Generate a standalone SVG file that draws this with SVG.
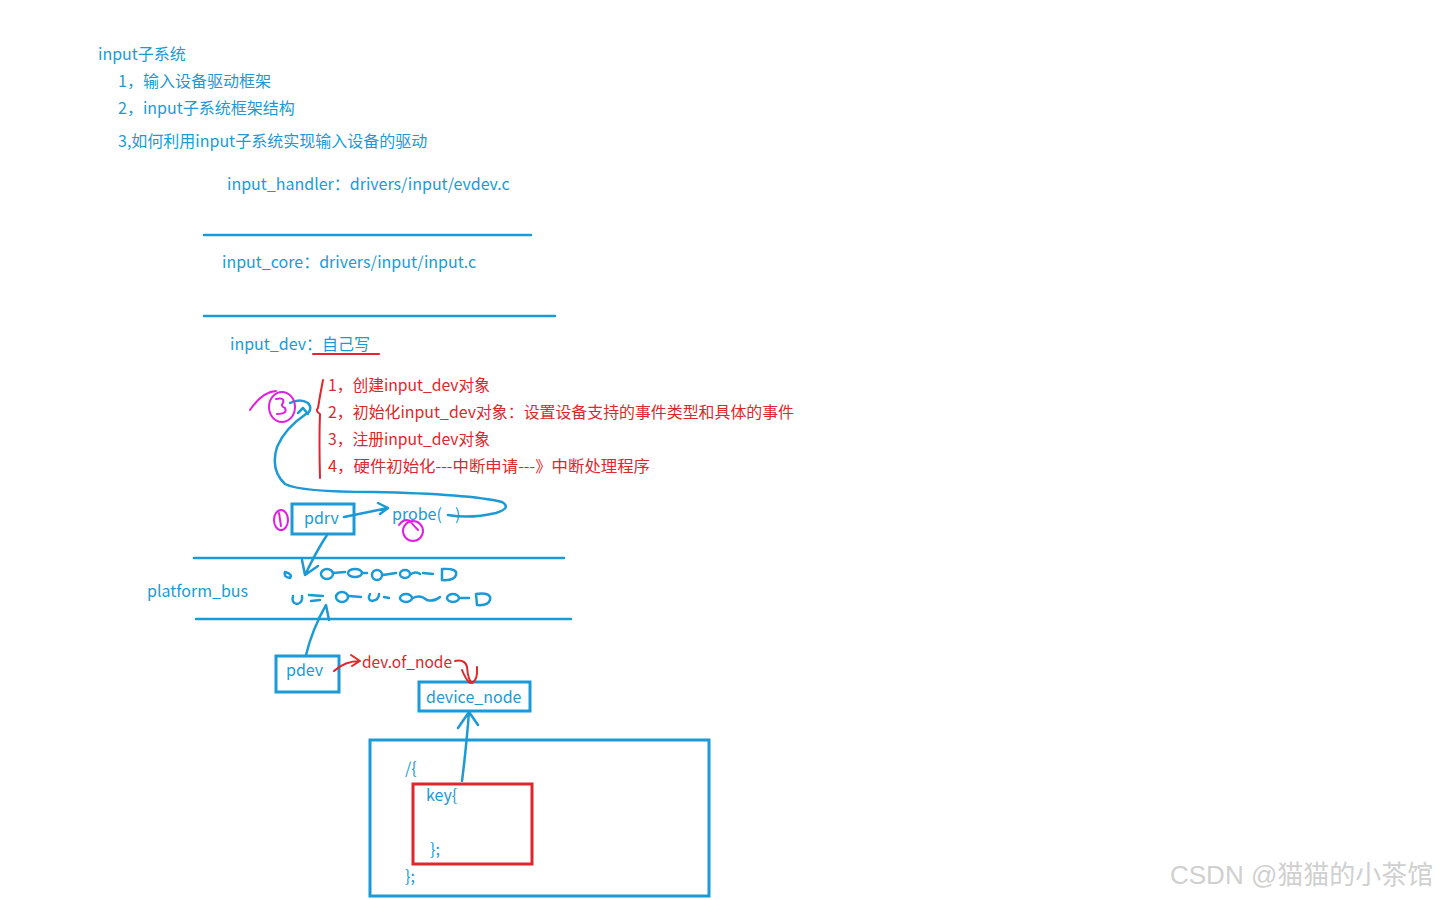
<svg xmlns="http://www.w3.org/2000/svg" width="1440" height="900" viewBox="0 0 1440 900">
<defs>
<style>
text{font-family:"Noto Sans CJK SC","Noto Sans",sans-serif;}
.b{fill:#1b9ad6;font-size:16px;}
.r{fill:#e0262c;font-size:15.5px;}
.bl{stroke:#1b9ad6;fill:none;stroke-width:2.5;stroke-linecap:round;stroke-linejoin:round;}
.box{stroke:#1b9ad6;fill:#fff;stroke-width:3;}
.rl{stroke:#e0262c;fill:none;stroke-width:2;stroke-linecap:round;stroke-linejoin:round;}
.mg{stroke:#e020e0;fill:none;stroke-width:2;stroke-linecap:round;stroke-linejoin:round;}
.wm{fill:#d0d0d0;font-size:26px;font-family:"Liberation Sans","Noto Sans CJK SC",sans-serif;}
</style>
</defs>
<rect width="1440" height="900" fill="#fff"/>

<g id="heading">
<text class="b" x="98" y="60">input子系统</text>
<text class="b" x="118" y="87" font-size="15">1，输入设备驱动框架</text>
<text class="b" x="118" y="114" font-size="15">2，input子系统框架结构</text>
<text class="b" x="118" y="147" font-size="15">3,如何利用input子系统实现输入设备的驱动</text>
</g>

<g id="layers">
<text class="b" x="227" y="190">input_handler：drivers/input/evdev.c</text>
<line class="bl" x1="204" y1="235" x2="531" y2="235" stroke-width="2"/>
<text class="b" x="222" y="268">input_core：drivers/input/input.c</text>
<line class="bl" x1="204" y1="316" x2="555" y2="316" stroke-width="2"/>
<text class="b" x="230" y="350">input_dev：<tspan>自己写</tspan></text>
<line class="rl" x1="313" y1="354" x2="379" y2="354"/>
</g>

<g id="steps">
<path class="rl" d="M323,380 Q320,395 318,408 Q315,411 320,414 Q319,440 320,478" stroke-width="2.5"/>
<text class="r" x="328" y="391" textLength="162" lengthAdjust="spacingAndGlyphs">1，创建input_dev对象</text>
<text class="r" x="328" y="418" textLength="466" lengthAdjust="spacingAndGlyphs">2，初始化input_dev对象：设置设备支持的事件类型和具体的事件</text>
<text class="r" x="328" y="445" textLength="162" lengthAdjust="spacingAndGlyphs">3，注册input_dev对象</text>
<text class="r" x="328" y="472" textLength="322" lengthAdjust="spacingAndGlyphs">4，硬件初始化---中断申请---》中断处理程序</text>
</g>

<g id="pdrv">
<rect class="box" x="292" y="504" width="62" height="30"/>
<text class="b" x="304" y="524">pdrv</text>
</g>

<g id="probe">
<text class="b" x="392" y="520">probe(</text>
<text class="b" x="455" y="520">)</text>
</g>

<g id="platform_bus">
<line class="bl" x1="194" y1="558" x2="564" y2="558" stroke-width="3"/>
<line class="bl" x1="196" y1="619" x2="571" y2="619" stroke-width="3"/>
<text class="b" x="147" y="597">platform_bus</text>
<g class="bl" stroke-width="2">
<path d="M285,572 Q283,577 290,578 Q293,574 285,572 Z"/>
<ellipse cx="327" cy="574" rx="6" ry="5"/>
<path d="M333,573 L345,572"/>
<ellipse cx="355" cy="573" rx="7" ry="4"/>
<path d="M362,573 L367,573"/>
<ellipse cx="377" cy="575" rx="5" ry="5"/>
<path d="M383,575 L396,573"/>
<ellipse cx="405" cy="574" rx="5" ry="4"/>
<path d="M411,574 Q416,571 420,574 M423,573 L433,574"/>
<path d="M442,569 L442,580 M442,569 Q458,568 456,575 Q454,581 442,580"/>
<path d="M293,596 Q291,603 297,604 Q303,603 302,596"/>
<path d="M309,595 L323,596 M311,601 L320,600"/>
<ellipse cx="342" cy="597" rx="6" ry="5"/>
<path d="M349,596 L361,597"/>
<path d="M370,594 Q367,600 372,601 Q379,600 379,594"/>
<path d="M384,597 L389,598"/>
<ellipse cx="406" cy="598" rx="6" ry="4"/>
<path d="M413,598 Q420,594 427,600 Q434,602 440,597"/>
<ellipse cx="453" cy="598" rx="6" ry="4"/>
<path d="M461,598 L469,598"/>
<path d="M476,594 L477,605 M476,594 Q492,592 490,600 Q488,606 477,605"/>
</g>
</g>

<g id="pdev">
<rect class="box" x="276" y="656" width="63" height="36"/>
<text class="b" x="286" y="676">pdev</text>
</g>

<g id="dev_of_node">
<text class="r" x="362" y="668" font-size="16.5">dev.of_node</text>
</g>

<g id="device_node">
<rect class="box" x="419" y="682" width="111" height="29"/>
<text class="b" x="426" y="703">device_node</text>
</g>

<g id="dts">
<rect class="box" x="370" y="740" width="339" height="156" fill="none"/>
<rect x="413" y="784" width="119" height="80" fill="none" stroke="#e0262c" stroke-width="3"/>
<text class="b" x="405" y="774" font-size="15">/{</text>
<text class="b" x="426" y="801" font-size="15">key{</text>
<text class="b" x="430" y="855" font-size="15">};</text>
<text class="b" x="405" y="882" font-size="15">};</text>
</g>

<g id="connectors">
<path class="bl" d="M344,517 L388,508 M378,503 L388,508 L380,514"/>
<path class="bl" d="M290,403 Q300,398 308,403 Q312,407 309,412 M298,413 L303,408 L308,414"/>
<path class="bl" d="M306,414 Q285,428 277,447 Q270,470 285,484 Q300,492 373,492 Q470,494 502,502 Q512,508 496,513 Q470,519 448,515"/>
<path class="bl" d="M327,535 Q317,550 305,575 M302,560 L305,575 L318,566"/>
<path class="bl" d="M306,655 Q312,630 326,605 M319,618 L326,605 L329,620"/>
<path class="rl" d="M334,671 Q345,661 360,661 M351,655 L360,661 L352,666"/>
<path class="rl" d="M455,661 Q465,659 467,667 Q468,680 472,683 Q478,680 477,667 M462,670 Q466,680 470,683"/>
<path class="bl" d="M462,781 Q466,750 469,712 M458,728 L469,712 L478,725"/>
</g>

<g id="marks">
<ellipse class="mg" cx="282" cy="407" rx="13" ry="15"/>
<path class="mg" d="M276,399 Q285,397 283,403 Q280,406 285,408 Q288,414 277,414"/>
<path class="mg" d="M250,410 Q262,392 276,391"/>
<ellipse class="mg" cx="281" cy="520" rx="7" ry="10"/>
<path class="mg" d="M279,513 L281,526"/>
<ellipse class="mg" cx="413" cy="531" rx="10" ry="10"/>
<path class="mg" d="M399,525 Q404,518 410,521 Q414,526 418,530"/>
</g>

<g id="watermark">
<text class="wm" x="1170" y="884">CSDN @猫猫的小茶馆</text>
</g>
</svg>
